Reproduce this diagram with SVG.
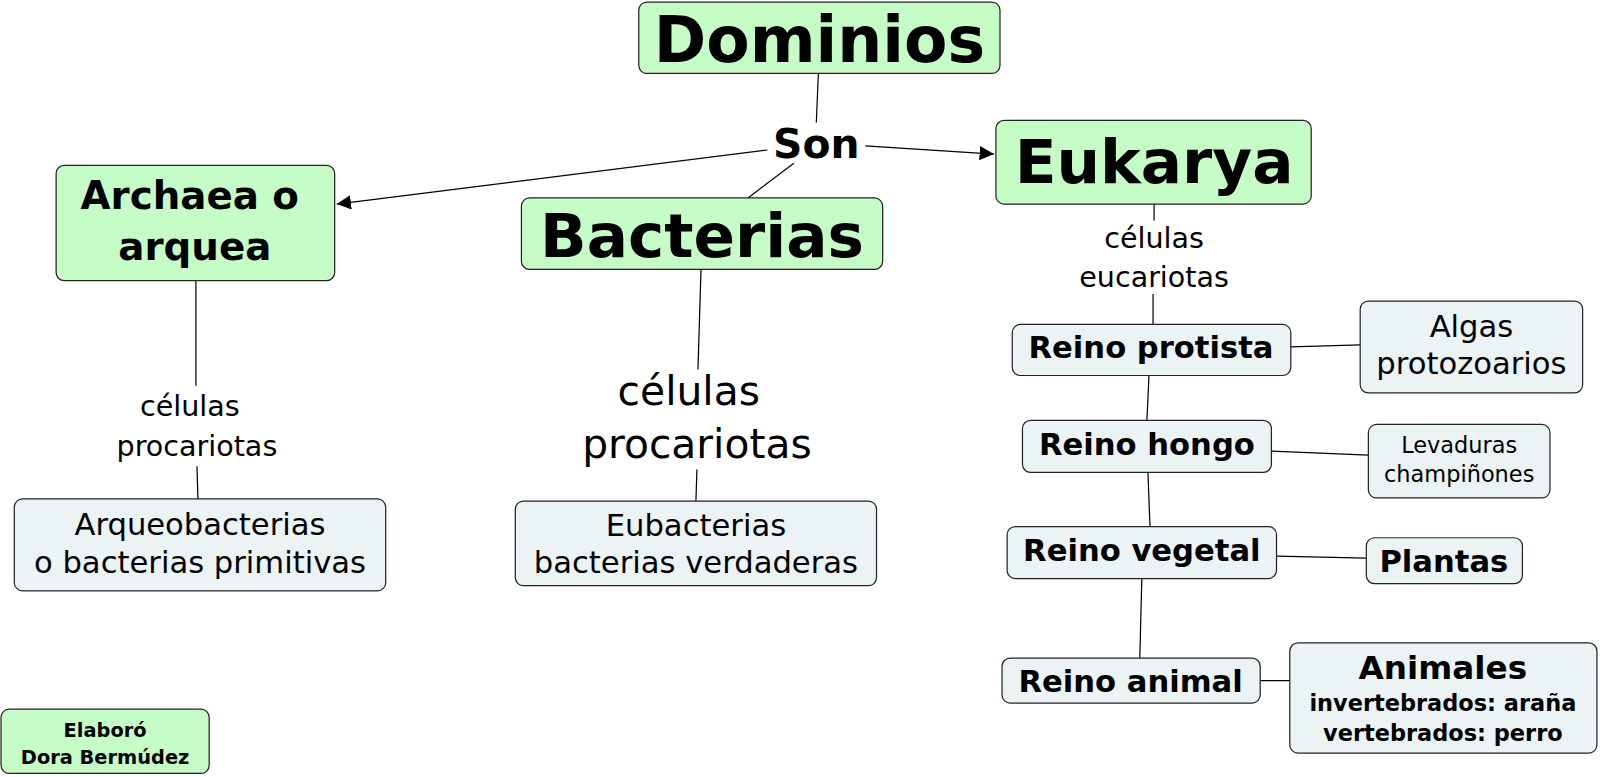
<svg xmlns="http://www.w3.org/2000/svg" width="1600" height="777" viewBox="0 0 1600 777">
<defs>
<style>
.g{fill:#c6fcc6;stroke:#222;stroke-width:1.2}
.w{fill:#ecf3f5;stroke:#222;stroke-width:1.2}
text{font-family:"DejaVu Sans",Verdana,sans-serif;text-anchor:middle;fill:#000}
.b{font-weight:bold}
#conn line{stroke:#000;stroke-width:1.2}
</style>
<marker id="ar" viewBox="0 0 10 10" refX="10" refY="5" markerWidth="14" markerHeight="14" markerUnits="userSpaceOnUse" orient="auto"><path d="M0,0L10,5L0,10z" fill="#000"/></marker>
</defs>
<rect width="1600" height="777" fill="#fff"/>
<g transform="scale(1.0204)">
<g id="conn">
<line x1="802" y1="72" x2="800" y2="120"/>
<line x1="752" y1="147" x2="330" y2="200" marker-end="url(#ar)"/>
<line x1="848" y1="143" x2="974" y2="151" marker-end="url(#ar)"/>
<line x1="778" y1="160" x2="733" y2="194"/>
<line x1="192" y1="275" x2="192" y2="378"/>
<line x1="193" y1="457" x2="194" y2="489"/>
<line x1="687" y1="264" x2="684" y2="362"/>
<line x1="683" y1="460" x2="682" y2="491"/>
<line x1="1131" y1="200" x2="1131" y2="216"/>
<line x1="1130" y1="288" x2="1130" y2="318"/>
<line x1="1265" y1="340" x2="1333" y2="338"/>
<line x1="1126" y1="368" x2="1124" y2="412"/>
<line x1="1246" y1="442" x2="1341" y2="446"/>
<line x1="1125" y1="463" x2="1127" y2="516"/>
<line x1="1251" y1="545" x2="1339" y2="547"/>
<line x1="1119" y1="567" x2="1117" y2="645"/>
<line x1="1235" y1="667" x2="1264" y2="667"/>
</g>
<g id="dominios"><rect class="g" x="626" y="2" width="354" height="70" rx="8"/><text class="b" x="803" y="61" font-size="62">Dominios</text></g>
<g id="son"><text class="b" x="800" y="155" font-size="40">Son</text></g>
<g id="eukarya"><rect class="g" x="976" y="118" width="309" height="82" rx="8"/><text class="b" x="1131" y="179" font-size="60">Eukarya</text></g>
<g id="archaea"><rect class="g" x="55" y="162" width="273" height="113" rx="8"/><text class="b" font-size="38"><tspan x="186" y="205">Archaea o</tspan><tspan x="191" y="255">arquea</tspan></text></g>
<g id="bacterias"><rect class="g" x="511" y="194" width="354" height="70" rx="8"/><text class="b" x="688" y="252" font-size="60">Bacterias</text></g>
<g id="lbl1"><text font-size="28"><tspan x="186" y="408">células</tspan><tspan x="193" y="447">procariotas</tspan></text></g>
<g id="arqueo"><rect class="w" x="14" y="489" width="364" height="90" rx="8"/><text font-size="30"><tspan x="196" y="524">Arqueobacterias</tspan><tspan x="196" y="562">o bacterias primitivas</tspan></text></g>
<g id="lbl2"><text font-size="40"><tspan x="675" y="397">células</tspan><tspan x="683" y="449">procariotas</tspan></text></g>
<g id="eubact"><rect class="w" x="505" y="491" width="354" height="83" rx="8"/><text font-size="30"><tspan x="682" y="525">Eubacterias</tspan><tspan x="682" y="562">bacterias verdaderas</tspan></text></g>
<g id="lbl3"><text font-size="28"><tspan x="1131" y="243">células</tspan><tspan x="1131" y="281">eucariotas</tspan></text></g>
<g id="protista"><rect class="w" x="992" y="318" width="273" height="50" rx="8"/><text class="b" x="1128" y="351" font-size="30">Reino protista</text></g>
<g id="algas"><rect class="w" x="1333" y="295" width="218" height="90" rx="8"/><text font-size="30"><tspan x="1442" y="330">Algas</tspan><tspan x="1442" y="367">protozoarios</tspan></text></g>
<g id="hongo"><rect class="w" x="1002" y="412" width="244" height="51" rx="8"/><text class="b" x="1124" y="446" font-size="30">Reino hongo</text></g>
<g id="levaduras"><rect class="w" x="1341" y="416" width="178" height="72" rx="8"/><text font-size="22"><tspan x="1430" y="444">Levaduras</tspan><tspan x="1430" y="472">champiñones</tspan></text></g>
<g id="vegetal"><rect class="w" x="987" y="516" width="264" height="51" rx="8"/><text class="b" x="1119" y="550" font-size="30">Reino vegetal</text></g>
<g id="plantas"><rect class="w" x="1339" y="527" width="153" height="45" rx="8"/><text class="b" x="1415" y="561" font-size="30">Plantas</text></g>
<g id="animal"><rect class="w" x="982" y="645" width="253" height="44" rx="8"/><text class="b" x="1108" y="678" font-size="30">Reino animal</text></g>
<g id="animales"><rect class="w" x="1264" y="630" width="301" height="108" rx="8"/><text class="b" x="1414" y="665" font-size="32">Animales</text><text class="b" x="1414" y="697" font-size="22">invertebrados: araña</text><text class="b" x="1414" y="726" font-size="22">vertebrados: perro</text></g>
<g id="elaboro"><rect class="g" x="1" y="695" width="204" height="63" rx="8"/><text class="b" font-size="19"><tspan x="103" y="722">Elaboró</tspan><tspan x="103" y="749">Dora Bermúdez</tspan></text></g>
</g>
</svg>
